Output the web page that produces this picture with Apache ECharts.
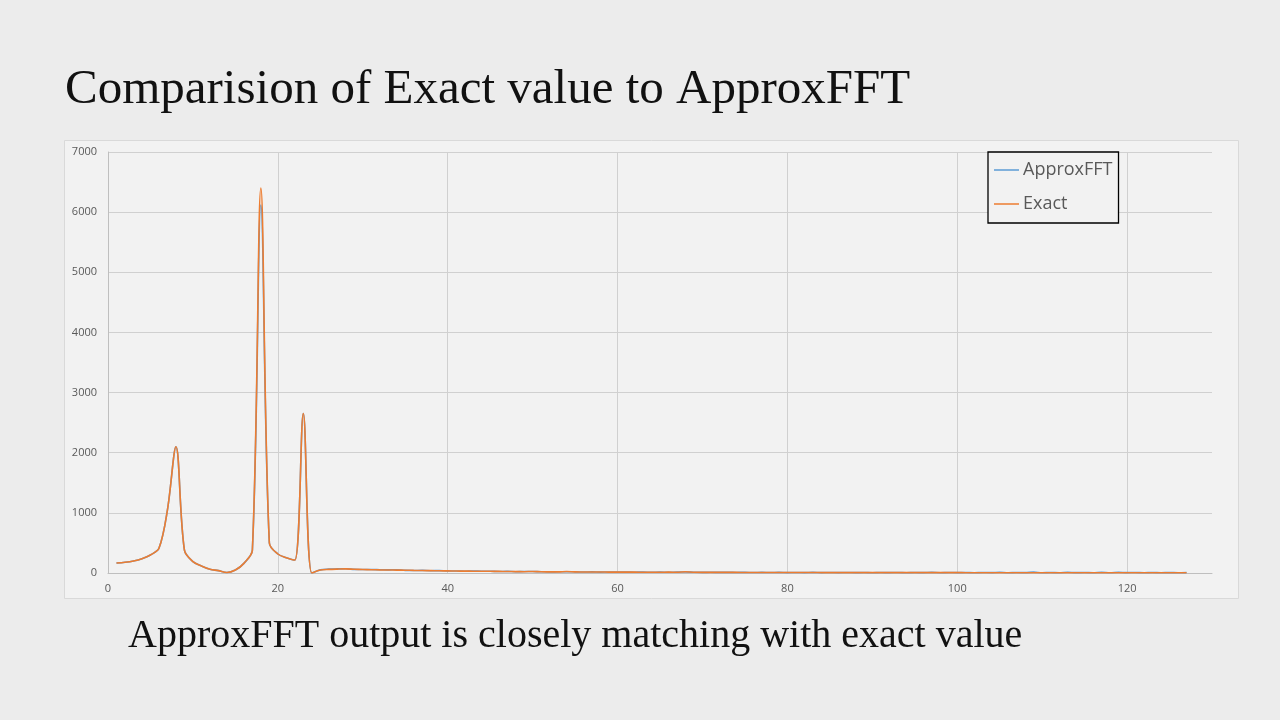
<!DOCTYPE html>
<html>
<head>
<meta charset="utf-8">
<script src="https://cdn.jsdelivr.net/npm/echarts@6/dist/echarts.min.js"></script>
<style>
html,body{margin:0;padding:0;background:#ECECEC;}
#c{width:1280px;height:720px;}
</style>
</head>
<body>
<div id="c"></div>
<script>
// bin index 1..127
const bins = Array.from({length:127}, (_, i) => i + 1);
const exactValues = [
165,178,200,238,300,410,1050,2100,380,190,
116,61,39,8,50,160,380,6400,500,316,
255,216,2650,0,50,60,65,68,62,58,
55,52,50,48,46,43,41,39,37,35,
33,31,30,29,28,27,25,23,22,26,
20,19,18,24,18,17,16,16,15,15,
14,14,13,13,12,14,13,20,12,11,
11,10,10,10,9,9,9,9,8,8,
8,8,8,7,7,7,7,7,7,6,
6,6,6,6,6,6,6,6,6,6,
5,5,5,5,5,5,5,5,5,5,
5,5,5,5,5,5,5,5,5,5,
5,5,5,5,5,5,5
];
const approxValues = [
165,178,200,238,300,410,1050,2100,380,190,
116,61,39,8,50,160,380,6120,500,316,
255,216,2650,0,52,64,68,70,60,57,
58,55,52,54,44,42,43,38,40,34,
34,30,33,28,30,25,27,22,25,24,
22,18,20,21,19,16,18,15,17,14,
15,13,15,12,14,12,15,16,13,10,
12,10,11,9,11,8,10,8,10,7,
9,7,10,6,9,6,9,6,8,5,
8,6,9,5,8,6,10,5,9,6,
8,5,9,6,12,5,8,6,14,5,
9,5,12,6,8,5,11,5,13,6,
9,5,8,5,7,5,6
];
const xTicks = [0,20,40,60,80,100,120];
const yTicks = [0,1000,2000,3000,4000,5000,6000,7000];

const chart = echarts.init(document.getElementById('c'));
const pair = (vals) => bins.map((b, i) => [b, vals[i]]);

chart.setOption({
  backgroundColor: '#ECECEC',
  animation: false,
  graphic: [
    {type:'rect', shape:{x:64.5,y:140.5,width:1174,height:458}, style:{fill:'#F2F2F2', stroke:'#D9D9D9', lineWidth:1}, z:-10},
    {type:'text', left:65, top:66, style:{text:'Comparision of Exact value to ApproxFFT', font:'49px "Liberation Serif", "DejaVu Serif", serif', fill:'#111'}},
    {type:'text', left:128, top:616, style:{text:'ApproxFFT output is closely matching with exact value', font:'40px "Liberation Serif", "DejaVu Serif", serif', fill:'#111'}}
  ],
  grid: {left:108, right:68, top:152, bottom:147, containLabel:false},
  legend: {
    orient:'vertical', left:988, top:152, width:134,
    padding:[9,6,10,6], itemGap:16,
    backgroundColor:'#F2F2F2', borderColor:'#000', borderWidth:1.3,
    icon:'rect', itemWidth:25, itemHeight:1.5,
    textStyle:{fontSize:18, color:'#595959', fontFamily:'"Open Sans", "Noto Sans", sans-serif', padding:[0,4,0,-1]},
    data:['ApproxFFT','Exact']
  },
  xAxis: {
    type:'value', min:0, max:130, interval:20,
    axisLine:{show:true, lineStyle:{color:'#BFBFBF'}},
    axisTick:{show:false},
    axisLabel:{color:'#595959', fontSize:11, fontFamily:'"Open Sans", sans-serif', margin:10,
      formatter:(v)=> xTicks.includes(v) ? String(v) : ''},
    splitLine:{show:true, showMaxLine:false, lineStyle:{color:'#D0D0D0'}}
  },
  yAxis: {
    type:'value', min:0, max:7000, interval:1000,
    axisLine:{show:true, lineStyle:{color:'#BFBFBF'}},
    axisTick:{show:false},
    axisLabel:{color:'#595959', fontSize:11, fontFamily:'"Open Sans", sans-serif', margin:11,
      formatter:(v)=> yTicks.includes(v) ? String(v) : ''},
    splitLine:{show:true, lineStyle:{color:'#D0D0D0'}}
  },
  series: [
    {name:'ApproxFFT', type:'line', data:pair(approxValues), smooth:0.35, showSymbol:false,
      lineStyle:{color:'#5B9BD5', width:1.6}, itemStyle:{color:'#5B9BD5'}},
    {name:'Exact', type:'line', data:pair(exactValues), smooth:0.35, showSymbol:false,
      lineStyle:{color:'#ED7D31', width:1.6}, itemStyle:{color:'#ED7D31'}}
  ]
});
</script>
</body>
</html>
